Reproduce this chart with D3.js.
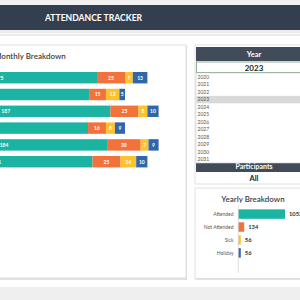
<!DOCTYPE html>
<html>
<head>
<meta charset="utf-8">
<script src="https://cdn.jsdelivr.net/npm/d3@7"></script>
<style>
  body { margin: 0; background: #fff; }
  svg { display: block; font-family: Lato, "Open Sans", sans-serif; }
</style>
</head>
<body>
<div id="chart"></div>
<script>
// data
const months = ["Jan", "Feb", "Mar", "Apr", "May", "Jun"];
const attended = [175, 168, 187, 167, 184, 171];
const notAttended = [25, 15, 25, 16, 30, 25];
const sick = [7, 12, 8, 8, 7, 14];
const holiday = [13, 5, 10, 9, 9, 10];
const seriesNames = ["Attended", "Not Attended", "Sick", "Holiday"];
const seriesColors = ["#1bb3a2", "#f3713b", "#fdc22c", "#2f66ac"];
const yearlyValues = [1052, 134, 56, 56];
const years = ["2020", "2021", "2022", "2023", "2024", "2025", "2026", "2027", "2028", "2029", "2030", "2031"];
const selectedYear = "2023";

const W = 300, H = 300;
const svg = d3.select("#chart").append("svg")
    .attr("width", W)
    .attr("height", H);

// page background
svg.append("rect").attr("width", W).attr("height", H).attr("fill", "#fff");
svg.append("rect").attr("x", 0).attr("y", 0).attr("width", W).attr("height", 5).attr("fill", "#f2f2f2");
svg.append("rect").attr("x", 0).attr("y", 30).attr("width", W).attr("height", 6).attr("fill", "#ececec");
svg.append("rect").attr("x", 0).attr("y", 33).attr("width", W).attr("height", 1).attr("fill", "#fafafa");
svg.append("rect").attr("x", 0).attr("y", 287).attr("width", W).attr("height", 13).attr("fill", "#efefef");

// header
svg.append("rect").attr("x", 0).attr("y", 5).attr("width", W).attr("height", 25).attr("fill", "#333f4f");
svg.append("text")
    .attr("x", 45).attr("y", 20.5)
    .attr("fill", "#fff")
    .attr("font-weight", "bold")
    .attr("font-size", 8.6)
    .text("ATTENDANCE TRACKER");

// left panel
svg.append("rect").attr("x", -20).attr("y", 46).attr("width", 207).attr("height", 234)
    .attr("fill", "#e3e3e3");
svg.append("rect").attr("x", -20).attr("y", 45).attr("width", 206).attr("height", 233)
    .attr("fill", "#fff").attr("stroke", "#d9d9d9").attr("stroke-width", 0.8);
svg.append("text")
    .attr("x", -6).attr("y", 59)
    .attr("fill", "#404040")
    .attr("font-size", 8)
    .attr("font-weight", 600)
    .text("Monthly Breakdown");

// stacked bars
const rows = months.map((m, i) => ({
  month: m, Attended: attended[i], "Not Attended": notAttended[i], Sick: sick[i], Holiday: holiday[i]
}));
const stack = d3.stack().keys(seriesNames)(rows);

const x = d3.scaleLinear().domain([0, 250]).range([-99, 181]);
const y = d3.scaleBand().domain(months).range([69.3, 170.1]).paddingInner(0.32).paddingOuter(0.16);
const color = d3.scaleOrdinal().domain(seriesNames).range(seriesColors);

const layer = svg.append("g").selectAll("g")
  .data(stack)
  .join("g")
    .attr("fill", d => color(d.key));

layer.selectAll("rect")
  .data(d => d)
  .join("rect")
    .attr("x", d => x(d[0]))
    .attr("y", d => y(d.data.month))
    .attr("width", d => x(d[1]) - x(d[0]))
    .attr("height", y.bandwidth());

layer.selectAll("text")
  .data(d => d.map(v => ({v, key: d.key})))
  .join("text")
    .attr("x", d => (x(d.v[0]) + x(d.v[1])) / 2)
    .attr("y", d => y(d.v.data.month) + y.bandwidth() / 2 + 1.8)
    .attr("text-anchor", "middle")
    .attr("fill", "#fff")
    .attr("font-size", 5)
    .attr("font-weight", "bold")
    .text(d => d.v[1] - d.v[0]);

// year slicer panel
svg.append("rect").attr("x", 195).attr("y", 45).attr("width", 110).attr("height", 139)
    .attr("fill", "#fff").attr("stroke", "#d9d9d9").attr("stroke-width", 0.8);
svg.append("rect").attr("x", 196).attr("y", 47).attr("width", 110).attr("height", 14).attr("fill", "#414b5a");
svg.append("text").attr("x", 254).attr("y", 57).attr("text-anchor", "middle")
    .attr("fill", "#fff").attr("font-size", 7.5).attr("font-weight", "bold").text("Year");
svg.append("rect").attr("x", 196.5).attr("y", 62).attr("width", 110).attr("height", 10.5)
    .attr("fill", "#fff").attr("stroke", "#6e9e7c").attr("stroke-width", 0.8);
svg.append("text").attr("x", 254).attr("y", 70.5).attr("text-anchor", "middle")
    .attr("fill", "#222").attr("font-size", 8).attr("font-weight", "bold").text(selectedYear);

// participants slicer (under the dropdown)
svg.append("rect").attr("x", 196).attr("y", 160).attr("width", 110).attr("height", 12).attr("fill", "#414b5a");
svg.append("text").attr("x", 254).attr("y", 169).attr("text-anchor", "middle")
    .attr("fill", "#fff").attr("font-size", 7).attr("font-weight", "bold").text("Participants");
svg.append("text").attr("x", 254).attr("y", 181).attr("text-anchor", "middle")
    .attr("fill", "#222").attr("font-size", 7.5).attr("font-weight", "bold").text("All");

// year dropdown list
const yl = d3.scaleBand().domain(years).range([73.5, 163]);
svg.append("rect").attr("x", 196).attr("y", 73).attr("width", 110).attr("height", 90)
    .attr("fill", "#fff").attr("stroke", "#c8c8c8").attr("stroke-width", 0.6);
svg.append("g").selectAll("rect")
  .data(years.filter(d => d === selectedYear))
  .join("rect")
    .attr("x", 196.5).attr("y", d => yl(d))
    .attr("width", 110).attr("height", yl.bandwidth())
    .attr("fill", "#d9d9d9");
svg.append("g").selectAll("text")
  .data(years)
  .join("text")
    .attr("x", 197.5)
    .attr("y", d => yl(d) + yl.bandwidth() / 2 + 1.8)
    .attr("fill", "#555")
    .attr("font-size", 5)
    .text(d => d);

// yearly breakdown panel
svg.append("rect").attr("x", 195.5).attr("y", 189).attr("width", 110).attr("height", 91)
    .attr("fill", "#e3e3e3");
svg.append("rect").attr("x", 195).attr("y", 188).attr("width", 110).attr("height", 90.5)
    .attr("fill", "#fff").attr("stroke", "#d9d9d9").attr("stroke-width", 0.8);
svg.append("text").attr("x", 253).attr("y", 202).attr("text-anchor", "middle")
    .attr("fill", "#404040").attr("font-size", 8).attr("font-weight", 600).text("Yearly Breakdown");

const x2 = d3.scaleLinear().domain([0, 1052]).range([238.3, 285]);
const y2 = d3.scaleBand().domain(seriesNames).range([205.5, 261.5]).paddingInner(0.27).paddingOuter(0.3);

svg.append("g").selectAll("rect")
  .data(seriesNames)
  .join("rect")
    .attr("x", x2(0))
    .attr("y", d => y2(d))
    .attr("width", (d, i) => x2(yearlyValues[i]) - x2(0))
    .attr("height", y2.bandwidth())
    .attr("fill", d => color(d));

svg.append("line")
    .attr("x1", x2(0)).attr("x2", x2(0))
    .attr("y1", 205).attr("y2", 273)
    .attr("stroke", "#d0d0d0").attr("stroke-width", 0.7);

svg.append("g").selectAll("text")
  .data(seriesNames)
  .join("text")
    .attr("x", 233.5)
    .attr("y", d => y2(d) + y2.bandwidth() / 2 + 1.8)
    .attr("text-anchor", "end")
    .attr("fill", "#595959")
    .attr("font-size", 5)
    .text(d => d);

svg.append("g").selectAll("text")
  .data(seriesNames)
  .join("text")
    .attr("x", (d, i) => x2(yearlyValues[i]) + 4)
    .attr("y", d => y2(d) + y2.bandwidth() / 2 + 2)
    .attr("fill", "#333")
    .attr("font-size", 5.8)
    .attr("font-weight", "bold")
    .text((d, i) => yearlyValues[i]);
</script>
</body>
</html>
